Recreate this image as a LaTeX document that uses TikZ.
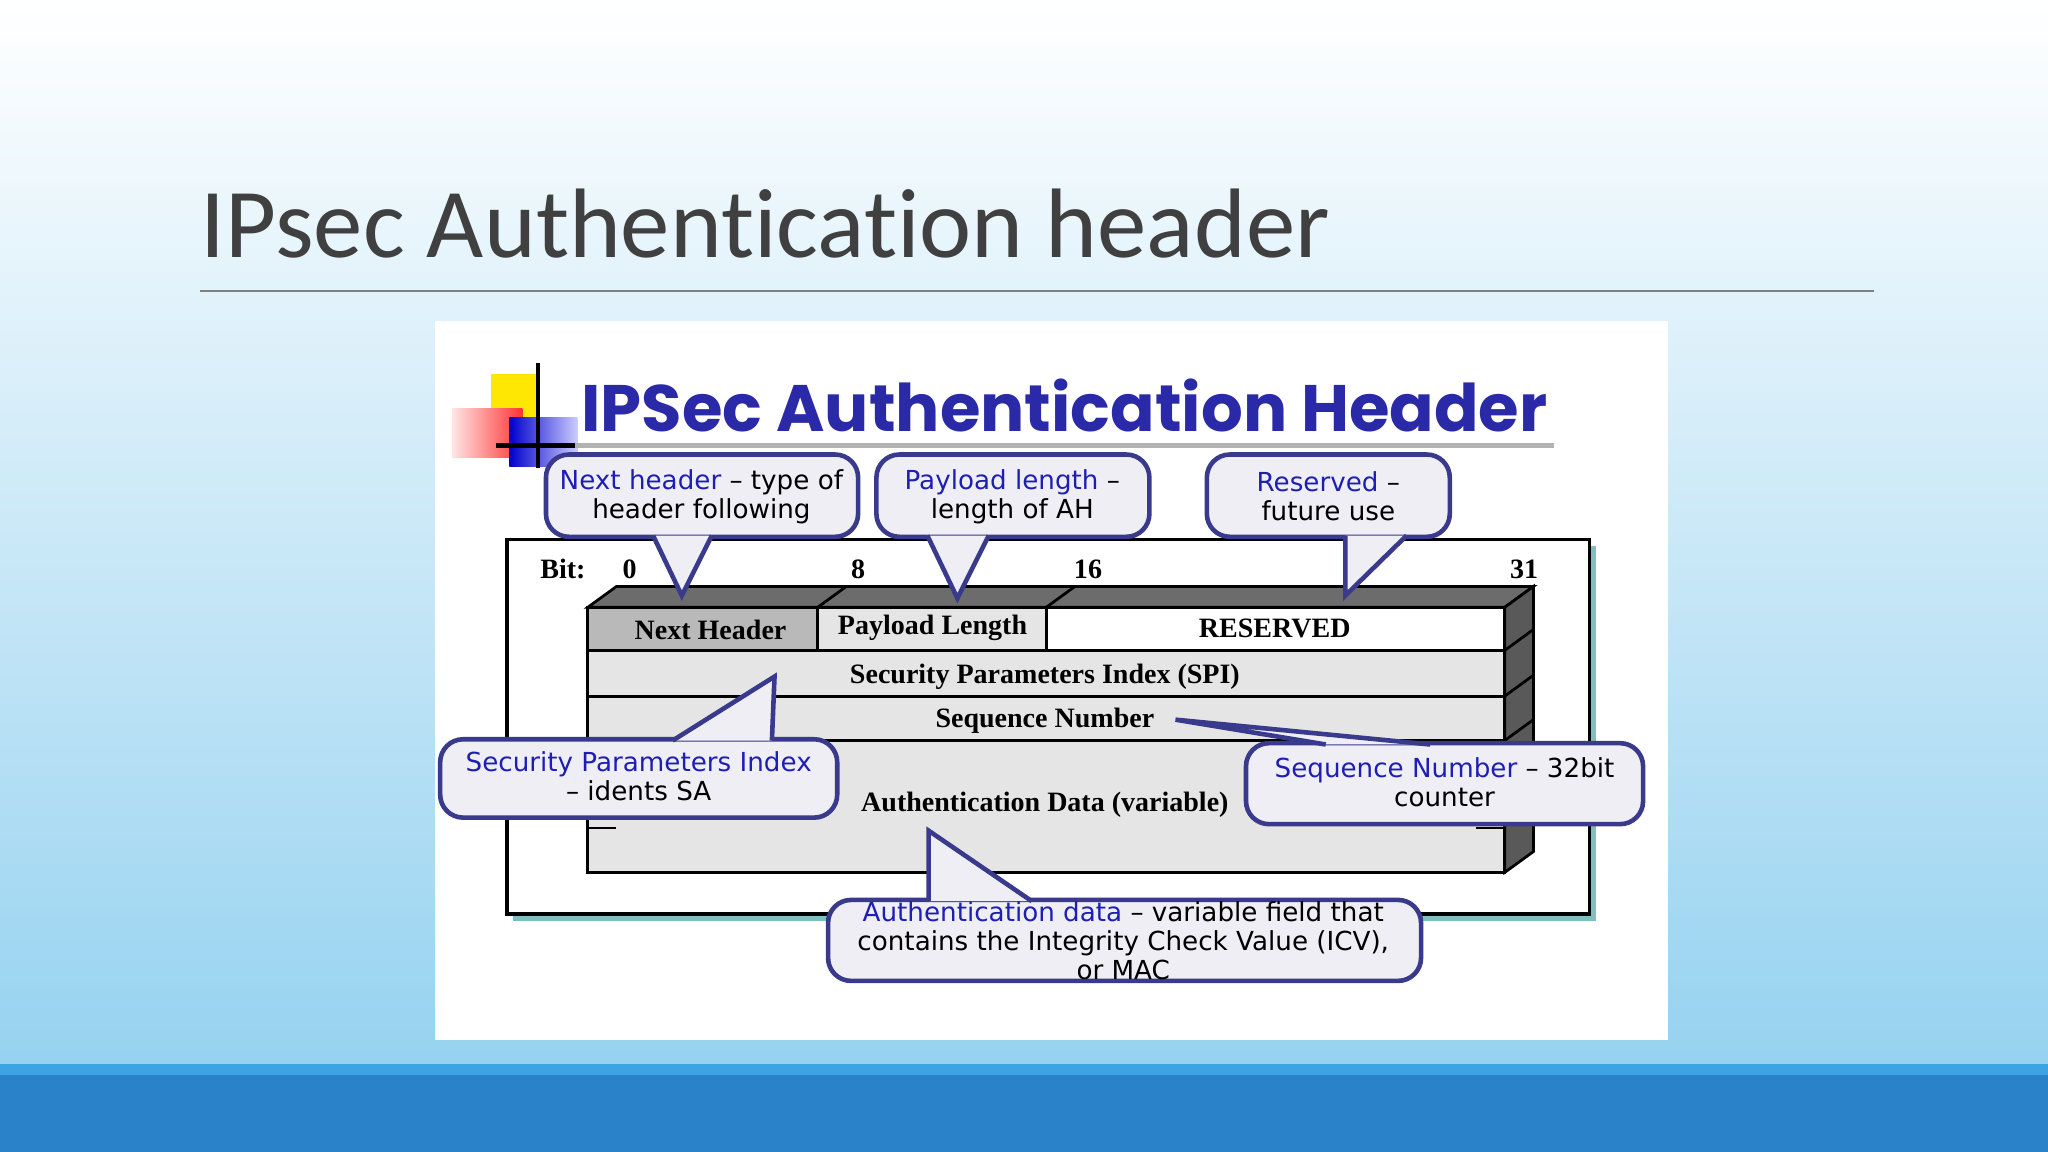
\documentclass[tikz,border=0pt]{standalone}
\usepackage{fontspec}
\setmainfont{DejaVu Sans}
\newfontfamily\ttl[Ligatures=NoCommon]{Carlito}
\newfontfamily\logo{Poppins}
\newfontfamily\ser{Liberation Serif}
\definecolor{navy}{HTML}{3A3A8C}
\definecolor{cblue}{HTML}{1E1EB4}
\definecolor{cfill}{HTML}{EEEEF4}
\definecolor{lblue}{HTML}{2A2AA8}
\definecolor{bgbot}{RGB}{150,210,240}
\definecolor{band1}{RGB}{60,165,225}
\definecolor{band2}{RGB}{42,130,200}
\definecolor{ttlc}{RGB}{64,64,64}
\begin{document}
\begin{tikzpicture}[x=0.01cm,y=-0.01cm,
  co/.style={draw=navy,line width=1pt,fill=cfill,rounded corners=5pt},
  ct/.style={font=\fontsize{5.7}{6.3}\selectfont,align=center,inner sep=0},
  tb/.style={font=\ser\bfseries\fontsize{6.1}{7}\selectfont,inner sep=0},
  cell/.style={draw=black,line width=0.6pt}]
\useasboundingbox (0,0) rectangle (1568,882);
\shade[top color=white,bottom color=bgbot] (0,0) rectangle (1568,815);
\fill[band1] (0,815) rectangle (1568,823);
\fill[band2] (0,823) rectangle (1568,882);
\node[anchor=base west,inner sep=0,text=ttlc,font=\ttl\fontsize{21.5}{25}\selectfont] (title) at (153,197) {IPsec Authentication header};
\draw[gray,line width=0.5pt] (153,223) -- (1435,223);
% white panel
\fill[white] (333,246) rectangle (1277,796);
% logo
\fill[yellow!90!orange] (376,286) rectangle (412,322);
\shade[left color=red!10,right color=red!80] (346,313) rectangle (400,350);
\shade[left color=blue!80!black,right color=blue!20] (390,320) rectangle (442,357);
\draw[black,line width=1pt] (412,278) -- (412,358) (380,341) -- (440,341);
\node[anchor=base,inner sep=0,text=lblue,font=\logo\bfseries\fontsize{14.3}{16}\selectfont] (logo) at (815,330) {IPSec Authentication Header};
\draw[gray!60,line width=1pt] (440,341) -- (1190,341);
% figure box
\fill[teal!50] (393,418) rectangle (1222,705);
\draw[fill=white,line width=0.8pt] (388,413) rectangle (1217,700);
\node[tb,anchor=base] (bit) at (431,443) {Bit:};
\node[tb,anchor=base] (b0) at (482,443) {0};
\node[tb,anchor=base] (b8) at (657,443) {8};
\node[tb,anchor=base] (b16) at (833,443) {16};
\node[tb,anchor=base] (b31) at (1167,443) {31};
% 3D table
\fill[gray!85!black] (450,465) -- (472,449) -- (1174,449) -- (1152,465) -- cycle;
\draw[cell] (450,465) -- (472,449) -- (1174,449) -- (1152,465) -- cycle;
\draw[cell] (626,465) -- (648,449) (801,465) -- (823,449);
\fill[gray!70!black] (1152,465) -- (1174,449) -- (1174,652) -- (1152,668) -- cycle;
\draw[cell] (1152,465) -- (1174,449) -- (1174,652) -- (1152,668) -- cycle;
\foreach \y in {498,533,567} \draw[cell] (1152,\y) -- (1174,\y-16);
\draw[cell,fill=gray!55] (450,465) rectangle (626,498);
\draw[cell,fill=gray!20] (626,465) rectangle (801,498);
\draw[cell,fill=white] (801,465) rectangle (1152,498);
\draw[cell,fill=gray!20] (450,498) rectangle (1152,533);
\draw[cell,fill=gray!20] (450,533) rectangle (1152,567);
\draw[cell,fill=gray!20] (450,567) rectangle (1152,668);
\draw[line width=0.6pt] (450,634) -- (472,634) (1130,634) -- (1152,634);
\node[tb] (nh) at (544,482) {Next Header};
\node[tb] (pl) at (714,481) {Payload Length};
\node[tb] (rs) at (976,481) {RESERVED};
\node[tb] (spi) at (800,518) {Security Parameters Index (SPI)};
\node[tb] (sn) at (800,552) {Sequence Number};
\node[tb] (ad) at (800,616) {Authentication Data (variable)};
% callouts
\newcommand{\callout}[5]{%
  \draw[co] (#1) rectangle (#2);
  \fill[cfill] (#3) -- (#4) -- (#5) -- cycle;
  \draw[navy,line width=1pt] (#3) -- (#5) -- (#4);}
\callout{418,348}{657,411}{500,410}{545,410}{522,456}
\callout{671,348}{880,411}{710,410}{757,410}{733,458}
\callout{924,348}{1110,411}{1030,410}{1077,410}{1030,456}
\callout{337,566}{641,626}{515,567}{591,567}{593,518}
\callout{954,569}{1258,631}{1015,570}{1095,570}{900,551}
\callout{634,689}{1088,751}{711,690}{790,690}{711,636}
\node[ct] (c1) at (537,380) {\textcolor{cblue}{Next header} -- type of\\header following};
\node[ct] (c2) at (775,380) {\textcolor{cblue}{Payload length} --\\length of AH};
\node[ct] (c3) at (1017,380) {\textcolor{cblue}{Reserved} --\\future use};
\node[ct] (c4) at (489,594) {\textcolor{cblue}{Security Parameters Index}\\-- idents SA};
\node[ct] (c5) at (1106,599) {\textcolor{cblue}{Sequence Number} -- 32bit\\counter};
\node[ct] (c6) at (860,720) {\textcolor{cblue}{Authentication data} -- variable field that\\contains the Integrity Check Value (ICV),\\or MAC};
\end{tikzpicture}
\end{document}
